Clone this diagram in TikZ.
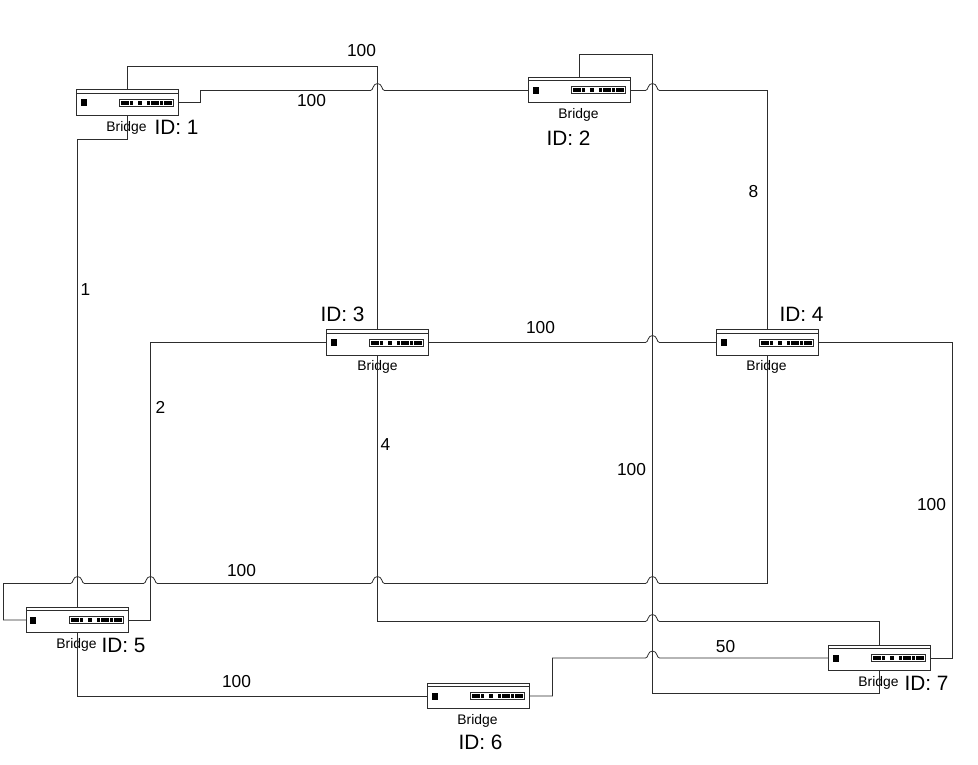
\documentclass[tikz,border=0pt]{standalone}
\usepackage{fontspec}
\setmainfont{Liberation Sans}
\definecolor{wire_grey}{RGB}{45, 45, 45}
\tikzstyle{bridge}=[rectangle,draw=wire_grey,fill=white,line width=0.7 pt,outer sep=0pt,
  inner sep=0pt,minimum width=76.5pt,minimum height=19pt,
  path picture={
    \draw [line width=0.7 pt] (-51,-9.25) -- (51,-9.25);
    \fill [black] (-47,-3.25) rectangle (-41,3.75);
    \draw [line width=0.8 pt,fill=white] (-8,-3.25) rectangle (46,3.75);
    \foreach \cell in {0,1,2,4,6,7,8,9,10,11}
      \fill [black] ({-6.5+\cell*4.3},-1.75) rectangle ({-3+\cell*4.3},2.25);
  }]
\tikzstyle{wire}=[draw=wire_grey,line width=0.6 pt]
\tikzstyle{cost}=[font=\fontsize{13}{15}\selectfont]
\tikzstyle{kind}=[font=\fontsize{10.4}{12}\selectfont]
\tikzstyle{ident}=[font=\fontsize{15.6}{18}\selectfont]
\tikzset{hop/.style 2 args={insert path={
  -- ({#1-7},#2) .. controls ({#1-4},#2) and ({#1-5},{#2-7}) .. (#1,{#2-7})
  .. controls ({#1+5},{#2-7}) and ({#1+4},#2) .. ({#1+7},#2)}}}
\begin{document}
\begin{tikzpicture}[x=0.75pt,y=-0.75pt]
    \useasboundingbox (0.5,0.5) rectangle (978.5,764.5);
    % bridges
    \node [style=bridge] (b1) at (128,103) {};
    \node [style=bridge] (b2) at (580,90.5) {};
    \node [style=bridge] (b3) at (378,343) {};
    \node [style=bridge] (b4) at (768,343) {};
    \node [style=bridge] (b5) at (78,620.5) {};
    \node [style=bridge] (b6) at (479,696.5) {};
    \node [style=bridge] (b7) at (880,658.5) {};
    % bridge texts
    \node [style=kind] (k1) at (127,128) {Bridge};
    \node [style=kind] (k2) at (579,115.5) {Bridge};
    \node [style=kind] (k3) at (378,367.5) {Bridge};
    \node [style=kind] (k4) at (767,367.5) {Bridge};
    \node [style=kind] (k5) at (77,645.5) {Bridge};
    \node [style=kind] (k6) at (478,721.5) {Bridge};
    \node [style=kind] (k7) at (879,683.5) {Bridge};
    \node [style=ident] (i1) at (177,128) {ID: 1};
    \node [style=ident] (i2) at (569,139) {ID: 2};
    \node [style=ident] (i3) at (343,315) {ID: 3};
    \node [style=ident] (i4) at (802,315) {ID: 4};
    \node [style=ident] (i5) at (124,646) {ID: 5};
    \node [style=ident] (i6) at (481,743) {ID: 6};
    \node [style=ident] (i7) at (927,684) {ID: 7};
    % links
    \draw [style=wire] (b1.north) -- (128,67) -- (378,67) -- (b3.north);
    \draw [style=wire] (b1.east) -- (201,103) -- (201,91) [hop={378}{91}] -- (b2.west |- 0,91);
    \draw [style=wire] (b1.south) -- (128,140) -- (78,140) -- (b5.north);
    \draw [style=wire] (b2.north) -- (580,55) -- (653,55) -- (653,694) -- (880,694) -- (b7.south);
    \draw [style=wire] (b2.east |- 0,91) [hop={653}{91}] -- (768,91) -- (b4.north);
    \draw [style=wire] (b3.east) [hop={653}{343}] -- (b4.west);
    \draw [style=wire] (b3.west) -- (151,343) -- (151,620.5) -- (b5.east);
    \draw [style=wire] (b3.south) -- (378,622) [hop={653}{622}] -- (880,622) -- (b7.north);
    \draw [style=wire] (b5.west) -- (4,620.5) -- (4,584) [hop={78}{584}] [hop={151}{584}]
      [hop={378}{584}] [hop={653}{584}] -- (768,584) -- (b4.south);
    \draw [style=wire] (b4.east) -- (953,343) -- (953,658.5) -- (b7.east);
    \draw [style=wire] (b5.south) -- (78,696.5) -- (b6.west);
    \draw [style=wire] (b6.east) -- (553,696.5) -- (553,658.5) [hop={653}{658.5}] -- (b7.west);
    % costs
    \node [style=cost] (c12) at (312,101.5) {100};
    \node [style=cost] (c13) at (362,51.5) {100};
    \node [style=cost] (c15) at (86,290.5) {1};
    \node [style=cost] (c24) at (754,192.5) {8};
    \node [style=cost] (c27) at (632,470.5) {100};
    \node [style=cost] (c34) at (541,328.5) {100};
    \node [style=cost] (c35) at (161,407.5) {2};
    \node [style=cost] (c37) at (386,445.5) {4};
    \node [style=cost] (c45) at (242,571.5) {100};
    \node [style=cost] (c47) at (932,505.5) {100};
    \node [style=cost] (c56) at (237,682.5) {100};
    \node [style=cost] (c67) at (726,647.5) {50};
\end{tikzpicture}
\end{document}
